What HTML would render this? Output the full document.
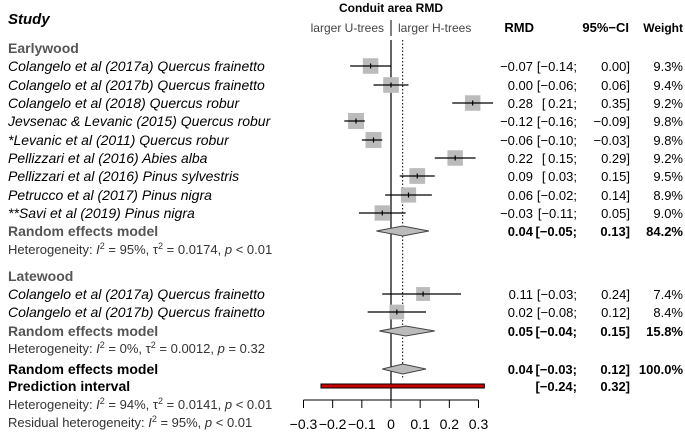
<!DOCTYPE html>
<html><head><meta charset="utf-8"><style>
html,body{margin:0;padding:0;background:#fff}
svg{display:block;font-family:"Liberation Sans",Arial,sans-serif}
</style></head><body>
<svg id="chart" width="685" height="434" viewBox="0 0 685 434">
<g id="g"></g>
</svg>
<script>
const studies=["Colangelo et al (2017a) Quercus frainetto","Colangelo et al (2017b) Quercus frainetto","Colangelo et al (2018) Quercus robur","Jevsenac & Levanic (2015) Quercus robur","*Levanic et al (2011) Quercus robur","Pellizzari et al (2016) Abies alba","Pellizzari et al (2016) Pinus sylvestris","Petrucco et al (2017) Pinus nigra","**Savi et al (2019) Pinus nigra","Colangelo et al (2017a) Quercus frainetto","Colangelo et al (2017b) Quercus frainetto"];
const groups=["early","early","early","early","early","early","early","early","early","late","late"];
const rmd=[-0.07,0.00,0.28,-0.12,-0.06,0.22,0.09,0.06,-0.03,0.11,0.02];
const lo=[-0.14,-0.06,0.21,-0.16,-0.10,0.15,0.03,-0.02,-0.11,-0.03,-0.08];
const hi=[0.00,0.06,0.35,-0.09,-0.03,0.29,0.15,0.14,0.05,0.24,0.12];
const weight=[9.3,9.4,9.2,9.8,9.8,9.2,9.5,8.9,9.0,7.4,8.4];
const summaryLabels=["Random effects model","Random effects model","Random effects model"];
const summaryEst=[0.04,0.05,0.04];
const summaryLo=[-0.05,-0.04,-0.03];
const summaryHi=[0.13,0.15,0.12];
const summaryWeight=["84.2%","15.8%","100.0%"];
const predLo=-0.24, predHi=0.32;
const xTicks=[-0.3,-0.2,-0.1,0,0.1,0.2,0.3];
const xTickLabels=["\u22120.3","\u22120.2","\u22120.1","0","0.1","0.2","0.3"];

const NS="http://www.w3.org/2000/svg";
const g=document.getElementById('g');
const x=v=>391+v*291.7;
const f2=v=>(v<0?"\u2212":"")+Math.abs(v).toFixed(2);
const pad=v=>(v<0?"":"\u2009")+f2(v);
function el(tag,attrs,txt){const e=document.createElementNS(NS,tag);for(const k in attrs)e.setAttribute(k,attrs[k]);if(txt!==undefined)e.textContent=txt;g.appendChild(e);return e;}
function txt(s,X,Y,o){o=o||{};const e=el('text',{x:X,y:Y,'font-size':o.size||14,'text-anchor':o.anchor||'start',fill:o.fill||'#000','font-weight':o.bold?'bold':'normal','font-style':o.italic?'italic':'normal'},s);return e;}

let t=txt("Study",8,24,{bold:true,italic:true,size:15});
t=txt("Conduit area RMD",391,12,{bold:true,size:12,anchor:'middle'});
t=txt("larger U-trees",384,32,{size:12,anchor:'end',fill:'#444'});
t=txt("larger H-trees",398,32,{size:12,fill:'#444'});
let l=el('line',{x1:391,y1:20,x2:391,y2:36,stroke:'#000','stroke-width':1});
t=txt("RMD",534,32,{bold:true,anchor:'end',size:13});
t=txt("95%\u2212CI",629,32,{bold:true,anchor:'end',size:13});
t=txt("Weight",683,32,{bold:true,anchor:'end',size:12});

l=el('line',{x1:391,y1:40,x2:391,y2:400,stroke:'#000','stroke-width':1.2});
l=el('line',{x1:x(summaryEst[2]),y1:40,x2:x(summaryEst[2]),y2:378,stroke:'#000','stroke-width':1,'stroke-dasharray':'1.5,2'});

t=txt("Earlywood",8,53,{bold:true,fill:'#555'});
t=txt("Latewood",8,281,{bold:true,fill:'#555'});

const rowY=[66,85,103,121,140,158,176,195,213,294,312];
function valueCols(y,est,a,b,w,bold){
  const o={anchor:'end',bold:bold,size:13};
  if(est!==null) txt(f2(est),533,y+5,o);
  txt("["+pad(a)+";",577,y+5,o);
  txt(pad(b)+"]",630,y+5,o);
  if(w) txt(w,683,y+5,o);
}
for(let i=0;i<studies.length;i++){
  const y=rowY[i];
  t=txt(studies[i],8,y+5,{italic:true});
  
  
  const s=5.1*Math.sqrt(weight[i]);
  const r=el('rect',{x:x(rmd[i])-s/2,y:y-s/2,width:s,height:s,fill:'#bbb'});
  
  
  const ln=el('line',{x1:x(lo[i]),y1:y,x2:x(hi[i]),y2:y,stroke:'#000','stroke-width':1.2});
  
  
  el('line',{x1:x(rmd[i]),y1:y-2.5,x2:x(rmd[i]),y2:y+2.5,stroke:'#000','stroke-width':1.2});
  valueCols(y,rmd[i],lo[i],hi[i],weight[i].toFixed(1)+"%",false);
}
const sumY=[231,331,369];
const sumFill=['#555','#555','#000'];
for(let k=0;k<3;k++){
  const y=sumY[k];
  t=txt(summaryLabels[k],8,y+5,{bold:true,fill:sumFill[k]});
  
  
  const p=el('polygon',{points:`${x(summaryLo[k])},${y} ${x(summaryEst[k])},${y-5} ${x(summaryHi[k])},${y} ${x(summaryEst[k])},${y+5}`,fill:'#bbb',stroke:'#444','stroke-width':1});
  
  
  valueCols(y,summaryEst[k],summaryLo[k],summaryHi[k],summaryWeight[k],true);
}
t=txt("Prediction interval",8,391,{bold:true});
let pr=el('rect',{x:x(predLo),y:384,width:x(predHi)-x(predLo),height:4,fill:'#c00',stroke:'#000','stroke-width':1});

valueCols(386,null,predLo,predHi,null,true);

function het(html,y,name){
  const e=el('text',{x:8,y:y,'font-size':13,fill:'#333'});
  e.innerHTML=html;
  
  
}
const I='<tspan font-style="italic">I</tspan><tspan dy="-5" font-size="9">2</tspan><tspan dy="5">';
const T='\u03C4<tspan dy="-5" font-size="9">2</tspan><tspan dy="5">';
het('Heterogeneity: '+I+' = 95%, </tspan>'+T+' = 0.0174, </tspan><tspan font-style="italic">p</tspan> &lt; 0.01',254,'heterogeneity-earlywood');
het('Heterogeneity: '+I+' = 0%, </tspan>'+T+' = 0.0012, </tspan><tspan font-style="italic">p</tspan> = 0.32',353,'heterogeneity-latewood');
het('Heterogeneity: '+I+' = 94%, </tspan>'+T+' = 0.0141, </tspan><tspan font-style="italic">p</tspan> &lt; 0.01',409,'heterogeneity-overall');
het('Residual heterogeneity: '+I+' = 95%, </tspan><tspan font-style="italic">p</tspan> &lt; 0.01',427,'residual-heterogeneity');

l=el('line',{x1:x(xTicks[0]),y1:400,x2:x(xTicks[xTicks.length-1]),y2:400,stroke:'#000','stroke-width':1});

for(let i=0;i<xTicks.length;i++){
  const tk=el('line',{x1:x(xTicks[i]),y1:400,x2:x(xTicks[i]),y2:408,stroke:'#000','stroke-width':1});
  
  
  const tl=txt(xTickLabels[i],x(xTicks[i]),429,{anchor:'middle'});
  
  
}
</script>
</body></html>
